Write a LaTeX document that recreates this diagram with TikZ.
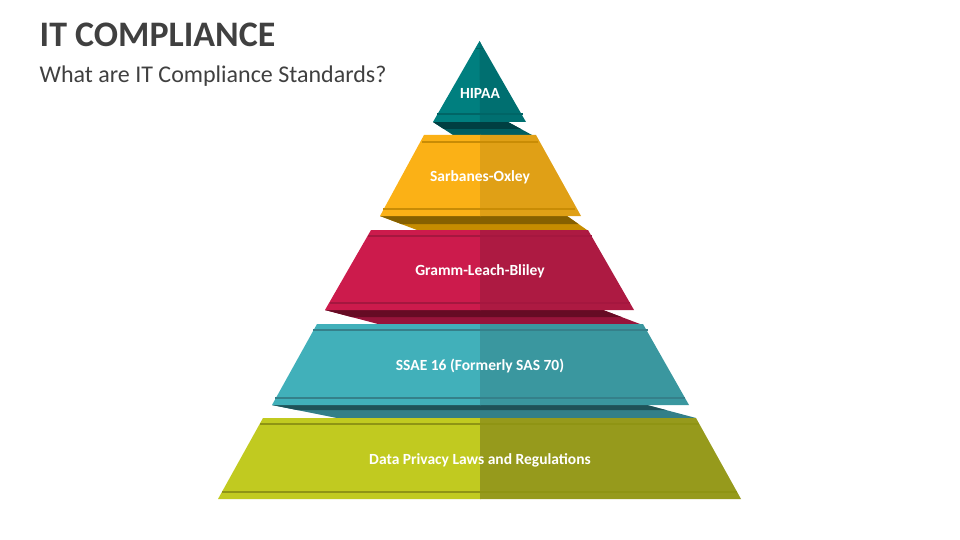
\documentclass[tikz,border=0pt]{standalone}
\usepackage{fontspec}
\setmainfont{Carlito}
\definecolor{tealL}{HTML}{007F7F}\definecolor{tealR}{HTML}{006F70}\definecolor{tealS}{HTML}{006566}\definecolor{tealD}{HTML}{003F42}\definecolor{tealU}{HTML}{005E60}
\definecolor{yelL}{HTML}{FBB116}\definecolor{yelR}{HTML}{E0A016}\definecolor{yelS}{HTML}{C98C05}\definecolor{yelD}{HTML}{866000}\definecolor{yelU}{HTML}{C68C00}
\definecolor{redL}{HTML}{CC1B4C}\definecolor{redR}{HTML}{AD1A42}\definecolor{redS}{HTML}{A5173F}\definecolor{redD}{HTML}{660B24}\definecolor{redU}{HTML}{97143A}
\definecolor{aquaL}{HTML}{41B0BA}\definecolor{aquaR}{HTML}{3A979F}\definecolor{aquaS}{HTML}{35808A}\definecolor{aquaD}{HTML}{1F5258}\definecolor{aquaU}{HTML}{337F88}
\definecolor{oliL}{HTML}{C1CA20}\definecolor{oliR}{HTML}{969A1C}\definecolor{oliS}{HTML}{8F9414}
\definecolor{titleink}{HTML}{404040}
\tikzset{
  label text/.style={text=white,font=\fontsize{15.5}{18}\selectfont\bfseries,inner sep=0pt,anchor=center},
  title text/.style={text=titleink,anchor=west,inner sep=0pt},
}
% tier: ytop, ybottom, xtopL, xtopR, xbotL, xbotR, colour prefix
\newcommand{\tierbody}[7]{%
  \fill[#7L] (#3,#1) -- (481,#1) -- (481,#2) -- (#5,#2) -- cycle;
  \fill[#7R] (480,#1) -- (#4,#1) -- (#6,#2) -- (480,#2) -- cycle;
}
\newcommand{\stripe}[4]{% y, xL, xR, colour
  \fill[#4S] (#2,#1-1) rectangle (#3,#1+1);
}
\newcommand{\shadowband}[9]{% ytop ymid ybot xTL xTR xBR xBL prefix unused
  \fill[#8U] (#4,#1) -- (#5,#1) -- (#6,#3) -- (#7,#3) -- cycle;
  \fill[#8D] (#4,#1) -- (#5,#1) -- ({#5+(#6-#5)*(#2-#1)/(#3-#1)},#2) -- ({#4+(#7-#4)*(#2-#1)/(#3-#1)},#2) -- cycle;
}
\begin{document}
\begin{tikzpicture}[x=1pt,y=-1pt]
\useasboundingbox (0,0) rectangle (960,540);
\node[title text,font=\fontsize{35.9}{41}\selectfont\bfseries] (title) at (39.5,35) {IT COMPLIANCE};
\node[title text,font=\fontsize{24}{28}\selectfont] (subtitle) at (39.5,76) {What are IT Compliance Standards?};
% shadows
\shadowband{122}{129}{135}{433}{508}{532}{453}{teal}{}
\shadowband{216}{224}{230}{380}{567}{587}{417}{yel}{}
\shadowband{310}{317}{324}{325}{603}{640}{378}{red}{}
\shadowband{405}{410}{418}{272}{647}{696}{337}{aqua}{}
% HIPAA
\fill[tealL] (479.5,41) -- (481,43.6) -- (481,122) -- (433,122) -- cycle;
\fill[tealR] (479.5,41) -- (526,122) -- (480,122) -- cycle;
\fill[tealS] (476,48) rectangle (483,49.5);
\stripe{114}{437}{523}{teal}
% tiers
\tierbody{135}{216}{424}{536}{380}{581}{yel}
\stripe{142}{422}{538}{yel}
\stripe{209}{383}{575}{yel}
\tierbody{230}{310}{371}{588}{325}{634}{red}
\stripe{235.5}{368}{592}{red}
\stripe{303}{330}{630}{red}
\tierbody{324}{405}{317}{643}{272}{689}{aqua}
\stripe{330}{313}{648}{aqua}
\stripe{398}{275}{685}{aqua}
\tierbody{418}{499}{263}{696}{218}{741}{oli}
\stripe{424}{260}{699}{oli}
\stripe{492}{222}{737}{oli}
% labels
\node[label text] (hipaa) at (480,93) {HIPAA};
\node[label text] (sox) at (480,177) {Sarbanes-Oxley};
\node[label text] (glb) at (480,271) {Gramm-Leach-Bliley};
\node[label text] (ssae) at (480,366) {SSAE 16 (Formerly SAS 70)};
\node[label text] (dpl) at (480,460) {Data Privacy Laws and Regulations};
\end{tikzpicture}
\end{document}
